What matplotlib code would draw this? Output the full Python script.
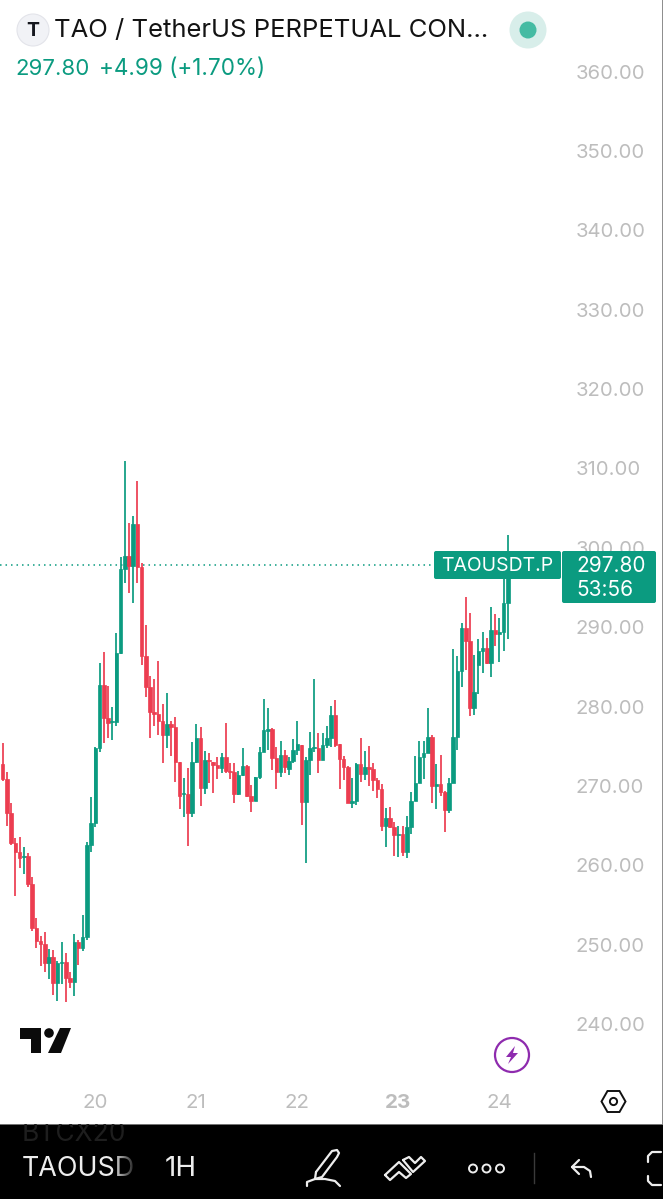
import numpy as np
import matplotlib
matplotlib.use("Agg")
import matplotlib.pyplot as plt
from matplotlib.patches import Circle, Ellipse, FancyBboxPatch, Polygon, Rectangle

opens = [272.76,270.87,266.59,262.81,261.67,261.04,261.17,257.64,252.10,250.46,
         250.08,247.69,248.44,245.17,247.69,247.81,245.80,245.29,250.33,249.58,
         250.96,262.55,265.33,274.78,282.71,278.56,278.05,278.05,286.75,297.33,
         298.97,297.71,303.00,297.58,286.37,282.46,279.31,279.06,278.18,276.41,
         277.80,277.42,273.01,268.98,268.98,266.59,273.01,276.04,269.74,273.26,
         273.01,272.63,272.26,273.64,271.88,271.75,268.98,271.37,272.51,268.73,
         268.10,271.12,274.27,276.92,277.17,273.52,271.75,273.89,272.13,273.14,
         274.52,275.15,267.97,273.26,274.78,274.78,273.26,275.15,276.04,278.93,
         275.28,273.39,272.38,267.85,268.10,272.76,271.50,272.38,272.13,270.74,
         269.61,264.95,265.96,264.82,263.81,263.94,261.67,264.82,268.10,270.37,
         273.64,274.15,276.16,269.99,270.24,269.23,266.96,270.37,276.16,284.48,
         289.90,288.26,279.82,285.23,287.00,287.38,285.49,289.64,289.14,289.39,
         293.05]
highs = [275.41,271.75,267.85,263.44,263.56,262.30,261.55,258.52,253.36,251.09,
         251.59,249.45,249.32,247.94,250.33,248.95,246.55,251.34,250.58,253.73,
         262.93,268.60,274.90,285.49,286.87,282.59,279.94,289.27,298.84,310.94,
         303.13,304.01,308.42,298.09,290.27,283.85,283.47,285.74,280.32,281.71,
         278.18,278.68,273.01,271.00,272.26,275.53,277.80,277.42,274.40,274.15,
         273.01,273.64,274.15,277.93,272.89,272.89,271.88,274.78,272.63,270.11,
         271.12,274.90,280.95,279.82,277.30,274.90,275.66,274.52,273.64,275.91,
         278.18,275.15,273.64,276.79,283.47,276.67,276.67,277.55,280.07,280.82,
         275.28,273.77,272.51,271.00,272.89,276.04,274.40,275.03,272.89,271.00,
         270.24,267.22,267.34,265.45,264.95,264.95,266.21,269.23,273.77,275.66,
         275.66,279.82,276.41,272.76,273.89,269.36,271.00,287.25,286.37,290.53,
         293.80,291.79,286.49,288.51,289.39,288.64,292.54,291.66,291.16,296.32,
         301.61]
lows = [270.62,264.95,262.55,256.13,259.66,258.90,257.26,251.72,249.58,247.31,
        246.55,245.67,243.65,242.90,245.04,242.77,244.54,243.53,247.43,249.20,
        250.58,261.67,264.82,274.27,275.41,276.04,275.78,277.55,286.62,295.57,
        294.31,293.05,295.57,285.23,281.20,276.04,277.55,276.41,272.89,274.78,
        273.77,270.49,267.09,266.08,262.43,266.08,272.89,267.47,268.98,270.37,
        269.11,270.87,271.63,271.63,270.87,267.85,268.85,271.25,268.60,266.71,
        268.10,270.87,274.27,274.52,272.00,269.61,271.12,271.63,271.37,272.89,
        273.89,265.07,260.29,271.37,274.27,271.63,273.26,274.78,274.90,274.90,
        269.61,270.74,267.85,267.22,267.59,270.49,270.74,269.99,269.36,268.48,
        264.32,262.30,264.70,261.17,261.04,261.17,260.92,263.94,268.10,270.37,
        270.87,274.15,267.85,267.09,268.73,264.19,266.59,270.37,274.52,282.46,
        284.60,278.81,278.93,281.58,284.23,285.36,283.72,287.63,285.61,287.00,
        288.51]
closes = [270.87,266.59,262.81,261.67,260.92,261.17,257.64,252.10,250.46,250.08,
          247.69,248.44,245.17,247.69,247.81,245.80,245.29,250.33,249.58,250.96,
          262.55,265.33,274.78,282.71,278.56,277.93,278.18,286.75,297.33,298.97,
          297.71,303.00,297.58,286.37,282.46,279.31,279.06,278.18,276.41,277.80,
          277.42,273.01,268.73,269.11,266.59,273.01,276.04,269.74,273.26,273.14,
          272.63,272.26,273.64,271.88,271.75,268.98,271.37,272.51,268.73,268.10,
          271.12,274.27,277.04,277.17,273.52,271.75,273.89,272.38,273.14,274.52,
          275.28,267.97,273.26,274.78,274.90,273.26,275.15,276.04,278.93,275.15,
          273.39,272.38,267.85,268.10,272.76,271.50,272.38,272.13,270.74,269.61,
          264.95,265.96,264.82,263.81,263.94,261.67,264.82,268.10,270.37,273.64,
          274.15,276.16,269.99,270.24,269.23,266.96,270.37,276.16,284.48,289.90,
          288.26,279.82,281.83,287.00,287.38,285.49,289.64,289.14,289.39,293.05,
          297.80]

price_ticks = [240, 250, 260, 270, 280, 290, 300, 310, 320, 330, 340, 350, 360]
date_labels = ["20", "21", "22", "23", "24"]
date_positions = [22, 46, 70, 94, 118]
last_price = 297.80

GREEN = "#0B9B80"
RED = "#EC3D50"
GREY = "#BDBDBD"
FONT = ["Inter", "DejaVu Sans"]
plt.rcParams["font.family"] = FONT

W, H = 663, 1199
fig = plt.figure(figsize=(W / 100, H / 100), dpi=100, facecolor="white")
ax = fig.add_axes([0, (H - 1124) / H, 1, 1124 / H])
ax.set_xlim(-0.641, 156.84)
ax.set_ylim(227.4, 369.02)
for s in ax.spines.values():
    s.set_visible(False)

o, h, l, c = map(np.array, (opens, highs, lows, closes))
x = np.arange(len(o))
cols = [GREEN if ci >= oi else RED for oi, ci in zip(o, c)]
ax.vlines(x, l, h, colors=cols, linewidth=1.25, zorder=2)
ax.bar(x, np.abs(c - o), bottom=np.minimum(o, c), width=0.84, color=cols,
       edgecolor=cols, linewidth=0.5, zorder=3)
ax.plot([-0.641, 102], [last_price, last_price], color=GREEN, lw=1.1,
        linestyle=(0, (1, 2.6)), zorder=1)

ax.yaxis.tick_right()
ax.set_yticks(price_ticks)
ax.set_yticklabels([f"{p:.2f}" for p in price_ticks])
ax.tick_params(axis="y", length=0, pad=-63, labelsize=14.6, labelcolor=GREY)
ax.set_xticks(date_positions)
ax.set_xticklabels(date_labels)
ax.tick_params(axis="x", length=0, pad=-21.5, labelsize=14.8, labelcolor=GREY)
ax.get_xticklabels()[3].set_fontweight("bold")

ui = fig.add_axes([0, 0, 1, 1], facecolor="none")
ui.set_xlim(0, W)
ui.set_ylim(H, 0)
ui.axis("off")

# right hairline
ui.plot([661.7, 661.7], [0, 1124], color="#8C8C8C", lw=0.7)

# header
ui.add_patch(Circle((33, 30), 16, fc="#F1F2F6", ec="#E3E4EA", lw=0.8))
ui.text(33, 31, "T", ha="center", va="center", fontsize=14, fontweight="bold", color="#15171E")
ui.text(54, 30, "TAO / TetherUS PERPETUAL CON...", ha="left", va="center",
        fontsize=18.45, color="#131313")
ui.add_patch(Circle((528, 30), 18.5, fc="#D8EEEA", ec="none"))
ui.add_patch(Circle((528, 30), 8.5, fc="#45BBA3", ec="none"))
ui.text(15, 69, "297.80", ha="left", va="center", fontsize=16, color=GREEN)
ui.text(99, 69, "+4.99 (+1.70%)", ha="left", va="center", fontsize=16.2, color=GREEN)

# price tags
ui.add_patch(FancyBboxPatch((436, 553), 123, 24, boxstyle="round,pad=2,rounding_size=2",
                            fc=GREEN, ec="none", zorder=5))
ui.add_patch(FancyBboxPatch((564, 553), 90, 48, boxstyle="round,pad=2,rounding_size=2",
                            fc=GREEN, ec="none", zorder=5))
ui.text(497.5, 566, "TAOUSDT.P", ha="center", va="center", fontsize=14, color="white", zorder=6)
ui.text(576, 566, "297.80", ha="left", va="center", fontsize=15, color="white", zorder=6)
ui.text(576, 590, "53:56", ha="left", va="center", fontsize=15, color="white", zorder=6)

# TradingView mark
ui.add_patch(Polygon([(20, 1028), (41, 1028), (41, 1053), (31, 1053), (31, 1039), (20, 1039)],
                     fc="#0B0B0B", ec="none"))
ui.add_patch(Circle((49, 1033), 4.8, fc="#0B0B0B", ec="none"))
ui.add_patch(Polygon([(60, 1028), (71, 1028), (61, 1053), (48, 1053)], fc="#0B0B0B", ec="none"))

# lightning badge
ui.add_patch(Ellipse((512, 1055), 34, 34, fc="white", ec="#8E2BAE", lw=1.6))
ui.add_patch(Polygon([(515, 1046), (506, 1057), (511, 1057), (508, 1064), (518, 1053), (513, 1053)],
                     fc="#8E2BAE", ec="none"))

# settings hexagon
ui.add_patch(Polygon([(601.5, 1101.5), (607.5, 1091), (619.5, 1091), (625.5, 1101.5), (619.5, 1112), (607.5, 1112)],
                     fc="white", ec="#111111", lw=1.4))
ui.add_patch(Circle((613.5, 1101.5), 3.6, fc="white", ec="#111111", lw=1.4))

# bottom toolbar
bar_rect = Rectangle((0, 1124), W, 75, fc="black", ec="none", zorder=1)
ui.add_patch(bar_rect)
ui.plot([0, W], [1124, 1124], color="#777777", lw=0.7, zorder=2)
faded = ui.text(22, 1134, "BTCX20", ha="left", va="center", fontsize=19, color="#1E1E1E",
                zorder=2, clip_on=True)
faded.set_clip_path(bar_rect)
ui.text(22, 1169, "TAOUSD", ha="left", va="center", fontsize=19.4, color="#EDEDED", zorder=2)
grad = np.zeros((1, 40, 4))
grad[0, :, 3] = np.linspace(0, 0.92, 40)
ui.imshow(grad, extent=(112, 136, 1187, 1150), aspect="auto", zorder=3)
ui.set_xlim(0, W)
ui.set_ylim(H, 0)
ui.text(165, 1169, "1H", ha="left", va="center", fontsize=20, color="#EDEDED", zorder=2)

line_kw = dict(color="#EDEDED", lw=1.6, solid_capstyle="round", solid_joinstyle="round", zorder=4)
# pencil
ui.plot([316, 332, 337, 339, 337, 322, 315, 316], [1172, 1151, 1150, 1153, 1157, 1177, 1179, 1172], **line_kw)
ui.plot([307, 307, 315, 325, 335, 340], [1186, 1182, 1179, 1179, 1181, 1186], **line_kw)
# chevrons
ui.plot([385, 399, 411, 406, 399, 390, 385], [1175, 1162, 1174, 1178, 1172, 1180, 1175], **line_kw)
ui.plot([403, 409, 415, 421, 425, 413, 403], [1160, 1157, 1163, 1157, 1161, 1172, 1160], **line_kw)
# dots
for cx in (473, 486.5, 500):
    ui.add_patch(Circle((cx, 1168.5), 4, fc="black", ec="#EDEDED", lw=1.4, zorder=4))
# separator
ui.plot([534, 534], [1153, 1183], color="#3A3A3A", lw=1, zorder=4)
# undo
ui.plot([572, 584, 590, 591], [1167, 1167, 1171, 1177], **line_kw)
ui.plot([579, 572, 579], [1160, 1167, 1174], **line_kw)
# bracket
ui.plot([661, 652, 648, 648], [1152, 1152, 1156, 1162], **line_kw)
ui.plot([648, 648, 652, 661], [1176, 1181, 1185, 1185], **line_kw)

fig.savefig("out.png", dpi=100, facecolor="white")
